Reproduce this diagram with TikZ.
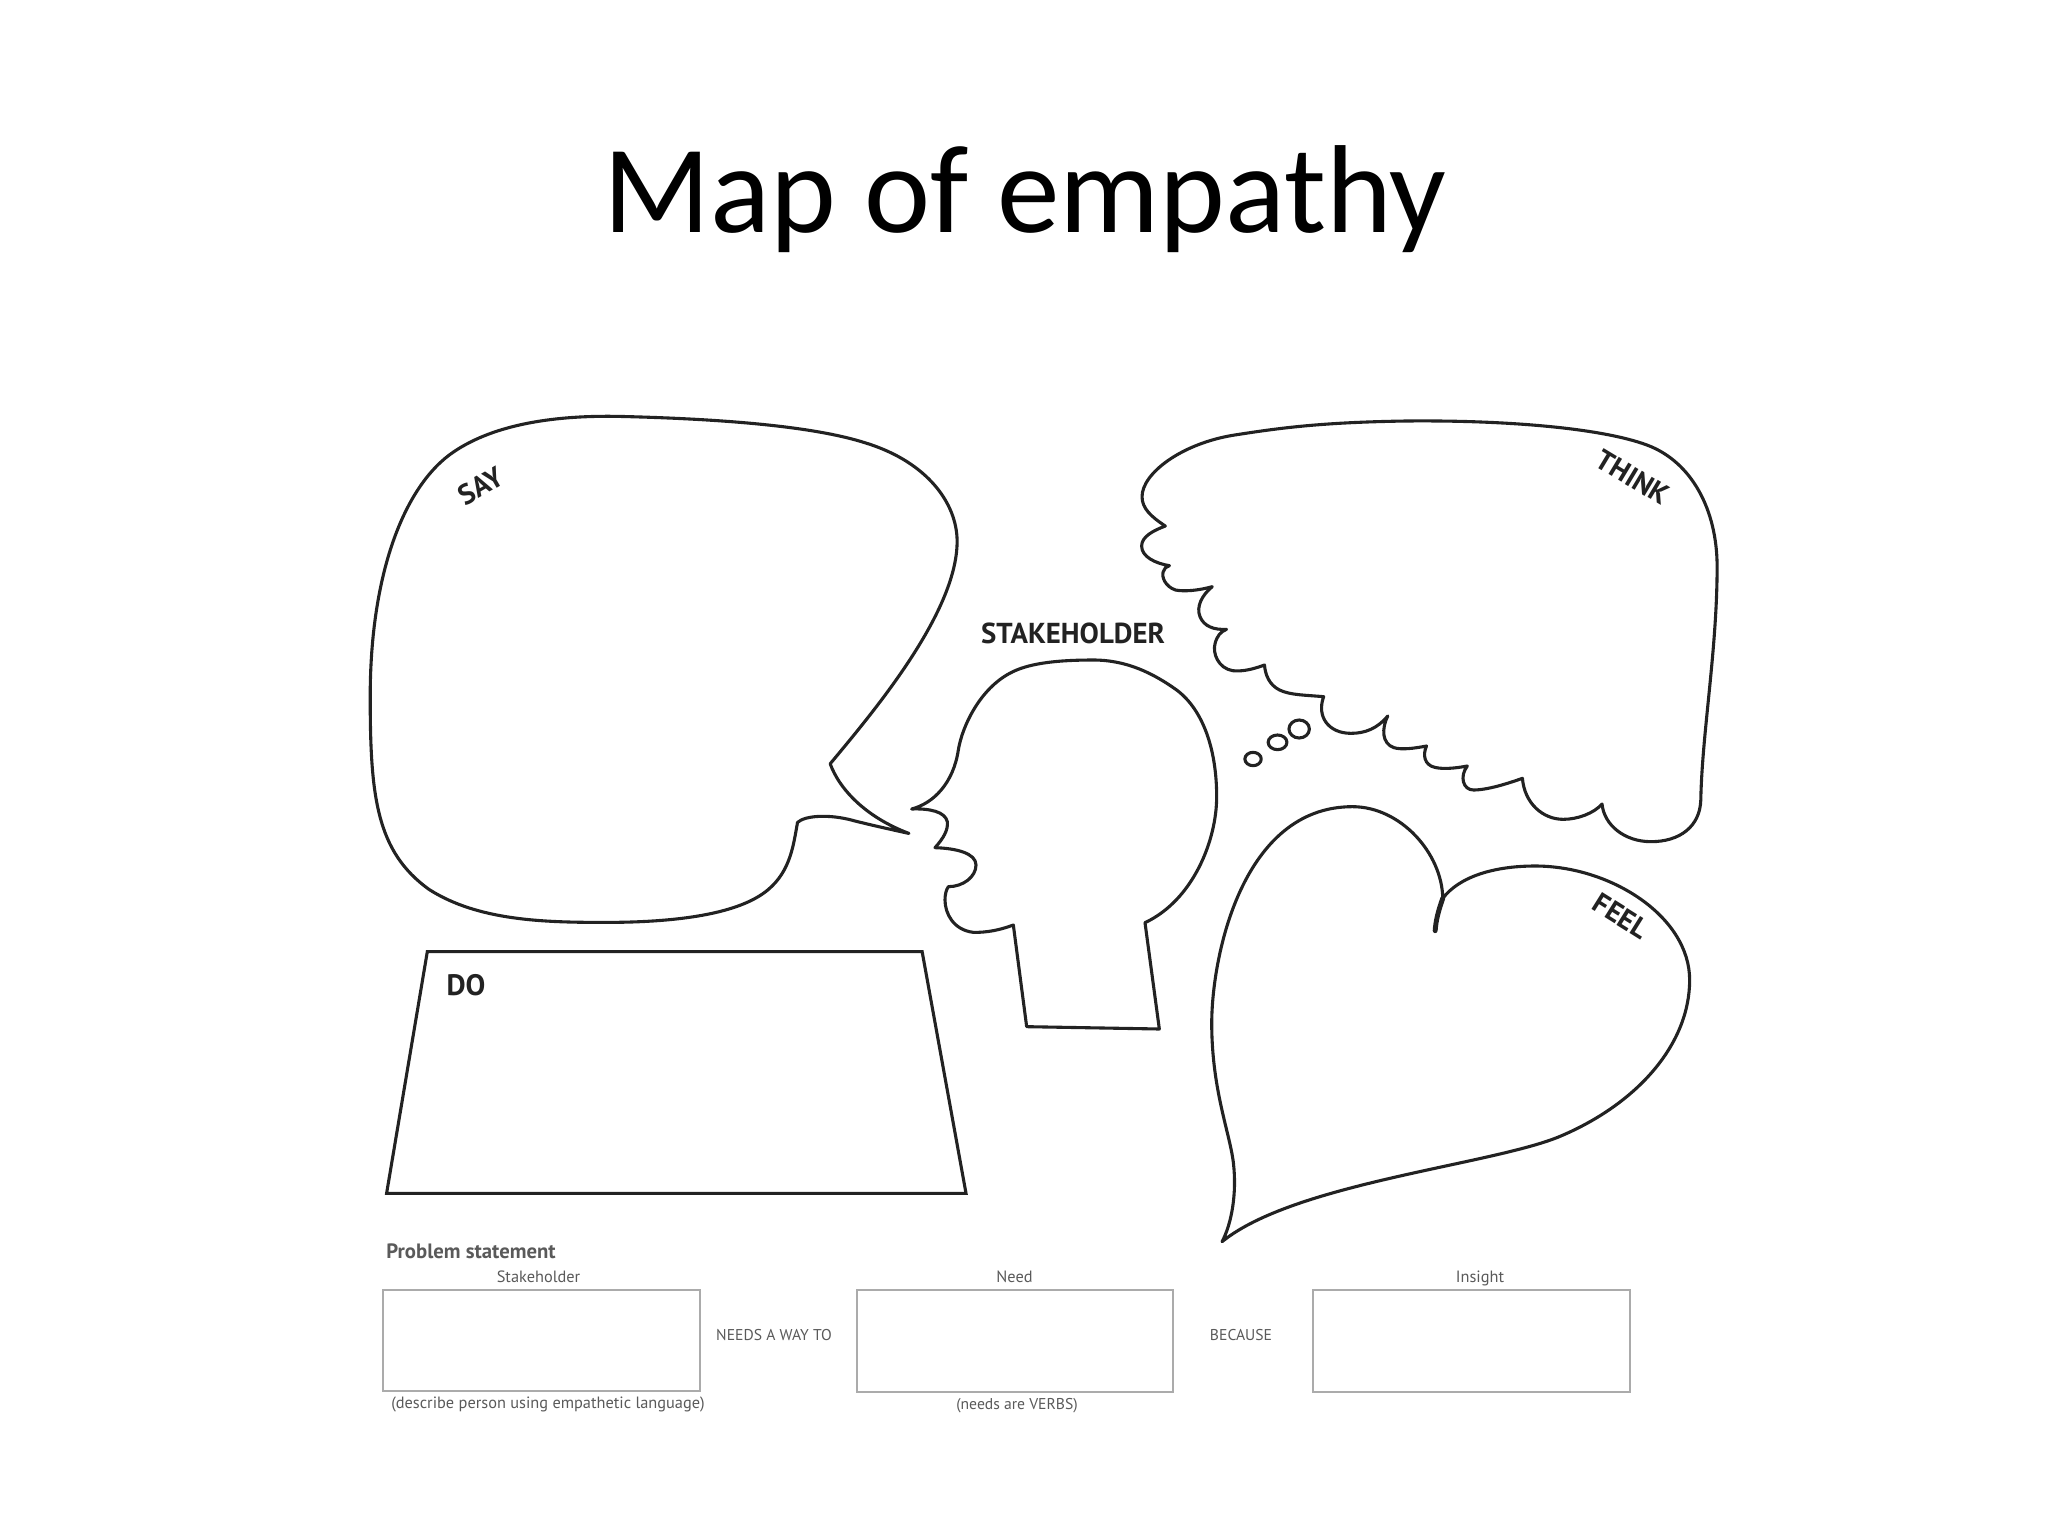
\documentclass[tikz,border=0pt]{standalone}
\usepackage{fontspec}
\setmainfont{PT Sans}
\newfontfamily\titlefont{Carlito}
\definecolor{inkc}{HTML}{222222}
\definecolor{softc}{HTML}{5A5A5A}
\definecolor{boxc}{HTML}{ABABAB}
\tikzset{
  outline/.style={draw=inkc,line width=0.88pt,line join=round,line cap=round},
  tag/.style={inner sep=0pt,text=inkc,font=\bfseries\fontsize{8.1}{9}\selectfont},
  small/.style={inner sep=0pt,text=softc,text height=3.4pt,text depth=1pt,font=\fontsize{4.65}{5}\selectfont},
  smaller/.style={small,font=\fontsize{4.45}{5}\selectfont},
  answerbox/.style={draw=boxc,line width=0.55pt,inner sep=0pt}
}
\begin{document}
\begin{tikzpicture}[x=0.01cm,y=-0.01cm]
\useasboundingbox[fill=white] (0,0) rectangle (2048,1536);
\node[inner sep=0pt,anchor=base,text=black,font=\titlefont\fontsize{35.6}{40}\selectfont] (title) at (1025,232) {Map of empathy};

% SAY bubble
\begin{scope}[shift={(360,400)},xscale=1/2.45,yscale=1/2.9]
\draw[outline] (1152,1055) .. controls (1250,915) and (1463,620) .. (1463,410)
 .. controls (1463,300) and (1390,180) .. (1240,125)
 .. controls (1110,75) and (880,55) .. (650,48)
 .. controls (480,42) and (330,70) .. (230,150)
 .. controls (110,245) and (25,500) .. (25,860)
 .. controls (25,1150) and (40,1310) .. (170,1420)
 .. controls (290,1510) and (450,1515) .. (600,1515)
 .. controls (780,1515) and (930,1490) .. (1000,1420)
 .. controls (1055,1365) and (1062,1290) .. (1072,1225)
 .. controls (1090,1205) and (1150,1200) .. (1210,1220)
 .. controls (1260,1235) and (1300,1245) .. (1345,1257)
 .. controls (1240,1210) and (1175,1130) .. (1152,1055) -- cycle;
\end{scope}

% THINK bubble
\begin{scope}[shift={(1100,400)},xscale=1/2.45,yscale=1/3]
\draw[outline] (160,378) .. controls (125,350) and (103,325) .. (103,290)
 .. controls (103,220) and (200,130) .. (330,105)
 .. controls (440,84) and (540,67) .. (750,63)
 .. controls (1000,60) and (1230,85) .. (1340,135)
 .. controls (1450,185) and (1512,330) .. (1512,500)
 .. controls (1512,750) and (1475,1000) .. (1472,1200)
 .. controls (1470,1280) and (1420,1325) .. (1350,1325)
 .. controls (1285,1325) and (1235,1275) .. (1230,1212)
 .. controls (1210,1240) and (1170,1258) .. (1135,1258)
 .. controls (1085,1258) and (1040,1210) .. (1035,1135)
 .. controls (1000,1150) and (950,1170) .. (915,1170)
 .. controls (890,1170) and (880,1130) .. (900,1098)
 .. controls (870,1105) and (840,1108) .. (820,1102)
 .. controls (795,1095) and (790,1065) .. (800,1038)
 .. controls (770,1045) and (740,1050) .. (720,1043)
 .. controls (690,1030) and (690,985) .. (705,948)
 .. controls (680,985) and (650,1000) .. (615,1000)
 .. controls (560,1000) and (530,950) .. (548,890)
 .. controls (500,885) and (465,885) .. (440,870)
 .. controls (415,855) and (405,825) .. (403,795)
 .. controls (370,810) and (345,815) .. (325,812)
 .. controls (290,805) and (275,760) .. (282,730)
 .. controls (287,708) and (295,695) .. (310,688)
 .. controls (280,690) and (255,680) .. (245,650)
 .. controls (235,620) and (250,585) .. (275,560)
 .. controls (240,572) and (205,575) .. (185,570)
 .. controls (160,560) and (150,530) .. (155,515)
 .. controls (157,505) and (162,500) .. (170,497)
 .. controls (135,490) and (102,470) .. (102,438)
 .. controls (102,410) and (130,392) .. (160,378) -- cycle;
\draw[outline] (375,1077) ellipse (20 and 20);
\draw[outline] (435,1027) ellipse (23 and 22);
\draw[outline] (488,987) ellipse (25 and 27);
\end{scope}

% Head
\begin{scope}[shift={(860,600)},scale=1/3]
\draw[outline] (155,627) .. controls (220,610) and (280,550) .. (295,450)
 .. controls (305,385) and (360,255) .. (470,210)
 .. controls (530,185) and (620,180) .. (700,180)
 .. controls (800,180) and (880,220) .. (950,270)
 .. controls (1030,330) and (1070,450) .. (1070,590)
 .. controls (1070,720) and (1000,900) .. (855,968)
 -- (898,1287) -- (500,1280) -- (460,975)
 .. controls (420,990) and (380,998) .. (340,997)
 .. controls (280,990) and (255,940) .. (255,900)
 .. controls (255,885) and (258,870) .. (265,860)
 .. controls (310,860) and (348,830) .. (348,795)
 .. controls (348,760) and (290,745) .. (225,743)
 .. controls (250,715) and (265,690) .. (262,665)
 .. controls (255,635) and (210,625) .. (155,627) -- cycle;
\end{scope}

% Heart
\begin{scope}[shift={(1180,790)},xscale=1/2.9,yscale=1/3]
\draw[outline] (122,1355) .. controls (150,1300) and (165,1210) .. (155,1120)
 .. controls (145,1030) and (92,900) .. (92,700)
 .. controls (92,500) and (180,50) .. (500,50)
 .. controls (640,50) and (760,190) .. (762,325)
 .. controls (810,260) and (910,228) .. (1030,228)
 .. controls (1250,228) and (1478,380) .. (1478,570)
 .. controls (1478,760) and (1330,940) .. (1100,1040)
 .. controls (900,1125) and (330,1180) .. (122,1355) -- cycle;
\draw[outline,line width=1.4pt] (762,325) .. controls (750,360) and (742,390) .. (740,422);
\end{scope}

% DO box
\begin{scope}[shift={(370,930)},xscale=1/2.53,yscale=1/3]
\draw[outline,line join=miter] (145,65) -- (1397,65) -- (1508,790) -- (42,790) -- cycle;
\end{scope}

\node[tag,rotate=30] (say) at (481,486) {SAY};
\node[tag,rotate=-31] (think) at (1633,477) {THINK};
\node[tag,rotate=-32] (feel) at (1621,916) {FEEL};
\node[tag,font=\bfseries\fontsize{8.4}{9}\selectfont] (do) at (466,985) {DO};
\node[tag,font=\bfseries\fontsize{8.2}{9}\selectfont] (stake) at (1073,633.5) {STAKEHOLDER};

\node[inner sep=0pt,text=softc,font=\bfseries\fontsize{5.9}{6}\selectfont] (prob) at (471,1251) {Problem statement};
\node[small] (l1) at (538.5,1278) {Stakeholder};
\node[small] (l2) at (1014.5,1278) {Need};
\node[small] (l3) at (1480,1278) {Insight};
\node[smaller] (w1) at (774,1336) {NEEDS A WAY TO};
\node[smaller] (w2) at (1241,1336) {BECAUSE};
\node[small] (n1) at (548,1404) {(describe person using empathetic language)};
\node[smaller] (n2) at (1017,1405) {(needs are VERBS)};

\node[answerbox,minimum width=3.17cm,minimum height=1.01cm] (b1) at (541.5,1340.5) {};
\node[answerbox,minimum width=3.16cm,minimum height=1.02cm] (b2) at (1015,1341) {};
\node[answerbox,minimum width=3.17cm,minimum height=1.02cm] (b3) at (1471.5,1341) {};
\end{tikzpicture}
\end{document}
